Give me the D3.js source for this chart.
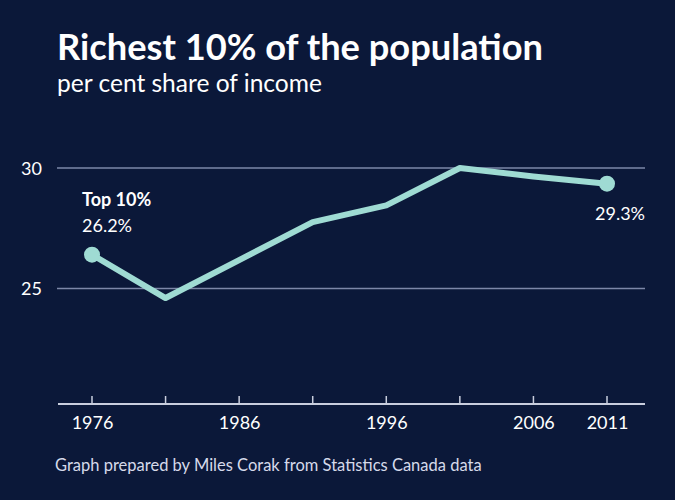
<!DOCTYPE html>
<html>
<head>
<meta charset="utf-8">
<script src="https://cdn.jsdelivr.net/npm/d3@7"></script>
<style>
  html, body { margin: 0; padding: 0; background: #0b1839; }
  svg { display: block; }
  text { font-family: Lato, "Open Sans", sans-serif; }
</style>
</head>
<body>
<svg id="chart" width="675" height="500"></svg>
<script>
// ---- data ----
const years  = [1976, 1981, 1991, 1996, 2001, 2006, 2011];
const shares = [26.4, 24.6, 27.75, 28.45, 30.0, 29.65, 29.35];
const yTicks = [25, 30];
const xTicks = [1976, 1981, 1986, 1991, 1996, 2001, 2006, 2011];
const xTickLabels = ["1976", "", "1986", "", "1996", "", "2006", "2011"];
const seriesName = "Top 10%";
const startLabel = "26.2%";
const endLabel = "29.3%";
const title = "Richest 10% of the population";
const subtitle = "per cent share of income";
const footer = "Graph prepared by Miles Corak from Statistics Canada data";

const W = 675, H = 500;
const svg = d3.select("#chart");
svg.append("rect").attr("width", W).attr("height", H).attr("fill", "#0b1839");

const x = d3.scaleLinear().domain([1976, 2011]).range([92, 607]);
const y = d3.scaleLinear().domain([20.2, 30]).range([404, 168]);

function fitText(sel, target) {
  const node = sel.node();
  let fs = parseFloat(sel.attr("font-size"));
  const w = node.getComputedTextLength();
  if (w > 0) sel.attr("font-size", fs * target / w);
}

// title
const t = svg.append("text").attr("x", 57).attr("y", 60).attr("fill", "#ffffff")
  .attr("font-weight", "bold").attr("font-size", 34).text(title);
fitText(t, 486);
const st = svg.append("text").attr("x", 57).attr("y", 92).attr("fill", "#ffffff")
  .attr("font-size", 22).text(subtitle);
fitText(st, 265);

// gridlines
svg.append("g").selectAll("line").data(yTicks).join("line")
  .attr("x1", 57).attr("x2", 645)
  .attr("y1", d => y(d)).attr("y2", d => y(d))
  .attr("stroke", "#7d87a8").attr("stroke-width", 1.5);

svg.append("g").selectAll("text").data(yTicks).join("text")
  .attr("x", 42).attr("y", d => y(d) + 6.5)
  .attr("text-anchor", "end").attr("fill", "#ffffff").attr("font-size", 18)
  .text(d => d);

// x axis
const axisY = 404;
const xAxis = d3.axisBottom(x).tickValues(xTicks).tickSize(0).tickFormat((d, i) => xTickLabels[i]);
const gx = svg.append("g").attr("transform", `translate(0,${axisY})`).call(xAxis);
gx.select(".domain").remove();
gx.selectAll("text").attr("fill", "#ffffff").attr("font-size", 18)
  .attr("font-family", "Lato, 'Open Sans', sans-serif").attr("dy", null).attr("y", 25);
svg.append("line").attr("x1", 58).attr("x2", 645).attr("y1", axisY).attr("y2", axisY)
  .attr("stroke", "#c9cede").attr("stroke-width", 2);
svg.append("g").selectAll("line").data(xTicks).join("line")
  .attr("x1", d => x(d)).attr("x2", d => x(d))
  .attr("y1", axisY - 8).attr("y2", axisY)
  .attr("stroke", "#c9cede").attr("stroke-width", 1.5);

// line
const pts = years.map((yr, i) => ({ yr, v: shares[i] }));
const line = d3.line().x(d => x(d.yr)).y(d => y(d.v));
svg.append("path").datum(pts).attr("d", line)
  .attr("fill", "none").attr("stroke", "#9fdbd3").attr("stroke-width", 6)
  .attr("stroke-linejoin", "round").attr("stroke-linecap", "round");

svg.append("g").selectAll("circle").data([pts[0], pts[pts.length - 1]]).join("circle")
  .attr("cx", d => x(d.yr)).attr("cy", d => y(d.v)).attr("r", 8)
  .attr("fill", "#9fdbd3");

// annotations
svg.append("text").attr("x", 82).attr("y", 206).attr("fill", "#ffffff")
  .attr("font-weight", "bold").attr("font-size", 18).text(seriesName);
svg.append("text").attr("x", 82).attr("y", 232).attr("fill", "#ffffff")
  .attr("font-size", 18).text(startLabel);
svg.append("text").attr("x", 645).attr("y", 220).attr("fill", "#ffffff")
  .attr("text-anchor", "end").attr("font-size", 18).text(endLabel);

// footer
const ft = svg.append("text").attr("x", 55).attr("y", 471).attr("fill", "#d6daea")
  .attr("font-size", 15).text(footer);
fitText(ft, 427);
</script>
</body>
</html>
